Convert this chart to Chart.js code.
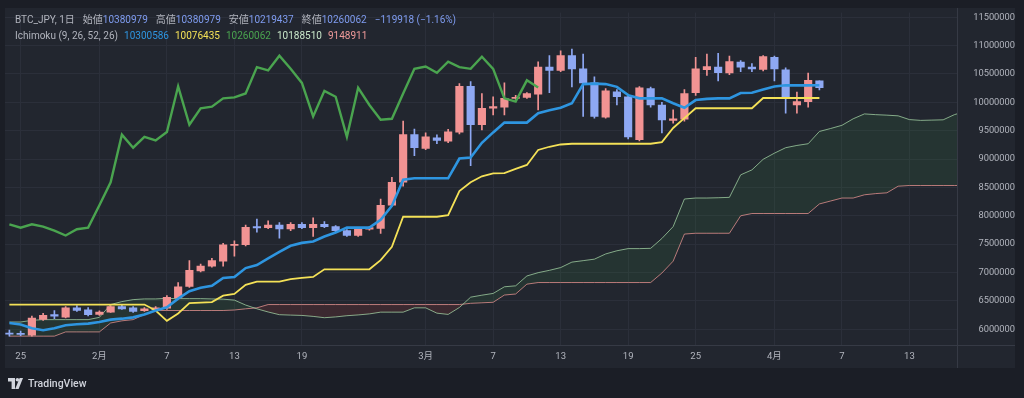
<!DOCTYPE html>
<html lang="ja">
<head>
<meta charset="utf-8">
<title>BTC_JPY 1日 Ichimoku</title>
<script src="https://cdn.jsdelivr.net/npm/chart.js@4.4.1/dist/chart.umd.min.js"></script>
<style>
  html, body { margin: 0; padding: 0; background: #1b1e26; }
  #wrap { position: relative; width: 1024px; height: 398px; overflow: hidden; }
  #chart { position: absolute; left: 0; top: 0; }
  .hdr { position: absolute; left: 15px; font-family: Roboto, "Noto Sans CJK JP", sans-serif;
         font-size: 10px; line-height: 12px; color: #b2b5be; white-space: nowrap; }
  .hdr .g { margin-left: 8px; }
  .hdr .v { color: #7f9cf0; }
  .hdr .n { margin-left: 6px; }
  #footer { position: absolute; left: 8px; top: 377px; display: flex; align-items: center;
            font-family: Roboto, sans-serif; font-size: 10.5px; font-weight: 500; color: #d1d4dc; }
  #footer svg { margin-right: 5px; }
</style>
</head>
<body>
<div id="wrap">
  <canvas id="chart" width="1024" height="398"></canvas>
  <div class="hdr" style="top:14px">BTC_JPY, 1日<span class="g">始値<span class="v">10380979</span></span><span class="g">高値<span class="v">10380979</span></span><span class="g">安値<span class="v">10219437</span></span><span class="g">終値<span class="v">10260062</span></span><span class="g v">−119918 (−1.16%)</span></div>
  <div class="hdr" style="top:30px">Ichimoku (9, 26, 52, 26)<span class="n" style="color:#2e95e0">10300586</span><span class="n" style="color:#f4e157">10076435</span><span class="n" style="color:#4aa44f">10260062</span><span class="n" style="color:#c8e6c9">10188510</span><span class="n" style="color:#ef9a9a">9148911</span></div>
  <div id="footer">
    <svg width="15" height="11" viewBox="0 0 15 11"><path d="M0 0H7V11H3.6V3.4H0Z" fill="#d1d4dc"/><circle cx="9.4" cy="1.8" r="1.8" fill="#d1d4dc"/><path d="M11.6 0H15L10.6 11H7.2Z" fill="#d1d4dc"/></svg>
    <span>TradingView</span>
  </div>
</div>
<script>
// daily candles, index 0 = 1/24 ... 72 = 4/5
const opens = [
  5930000, 5925000, 5896000, 6174000, 6256000, 6214000, 6377000, 6343000, 6261000, 6301000,
  6400000, 6377000, 6325000, 6343000, 6370000, 6551000, 6753000, 7026000, 7113000, 7200000,
  7478000, 7490000, 7809000, 7791000, 7838000, 7769000, 7849000, 7791000, 7849000, 7809000,
  7739000, 7652000, 7762000, 7779000, 8186000, 8591000, 9431000, 9188000, 9374000, 9317000,
  9473000, 10283000, 9605000, 9896000, 9913000, 10070000, 10087000, 10144000, 10621000, 10562000,
  10823000, 10591000, 10343000, 9739000, 10186000, 10099000, 9344000, 10243000, 9953000, 9682000,
  9704000, 10169000, 10574000, 10621000, 10517000, 10708000, 10621000, 10579000, 10795000, 10574000,
  9953000, 10012000, 10380979
];
const highs = [
  5983000, 5965000, 6231000, 6278000, 6330000, 6400000, 6417000, 6383000, 6322000, 6417000,
  6426000, 6400000, 6383000, 6400000, 6591000, 6823000, 7212000, 7148000, 7252000, 7513000,
  7560000, 7838000, 7943000, 7913000, 7878000, 7878000, 7878000, 7965000, 7896000, 7826000,
  7757000, 7791000, 7809000, 8296000, 8678000, 9670000, 9530000, 9461000, 9426000, 9522000,
  10330000, 10365000, 10156000, 10099000, 10343000, 10122000, 10174000, 10713000, 10823000, 10909000,
  10939000, 10852000, 10452000, 10243000, 10226000, 10127000, 10278000, 10270000, 10000000, 9866000,
  10226000, 10795000, 10852000, 10864000, 10817000, 10736000, 10683000, 10823000, 10817000, 10609000,
  10179000, 10517000, 10380979
];
const lows = [
  5878000, 5887000, 5878000, 6157000, 6186000, 6200000, 6313000, 6235000, 6243000, 6296000,
  6348000, 6296000, 6313000, 6330000, 6348000, 6539000, 6739000, 7009000, 7096000, 7113000,
  7287000, 7470000, 7710000, 7774000, 7605000, 7739000, 7774000, 7635000, 7791000, 7722000,
  7635000, 7635000, 7748000, 7687000, 8174000, 8522000, 9061000, 9165000, 9270000, 9287000,
  9443000, 8882000, 9513000, 9779000, 9779000, 10052000, 10070000, 9866000, 10169000, 10539000,
  10273000, 9751000, 9722000, 9722000, 9953000, 9357000, 9322000, 9913000, 9461000, 9635000,
  9670000, 10122000, 10475000, 10377000, 10487000, 10539000, 10539000, 10556000, 10377000, 9809000,
  9809000, 9913000, 10219437
];
const closes = [
  5913000, 5910000, 6197000, 6243000, 6231000, 6377000, 6330000, 6256000, 6301000, 6400000,
  6360000, 6313000, 6360000, 6377000, 6562000, 6748000, 7038000, 7113000, 7210000, 7490000,
  7496000, 7797000, 7786000, 7838000, 7769000, 7849000, 7791000, 7849000, 7809000, 7739000,
  7652000, 7762000, 7791000, 8186000, 8591000, 9431000, 9200000, 9391000, 9327000, 9478000,
  10283000, 9605000, 9896000, 9925000, 10070000, 10087000, 10156000, 10621000, 10562000, 10823000,
  10591000, 10343000, 9751000, 10203000, 10099000, 9391000, 10256000, 9953000, 9692000, 9710000,
  10156000, 10591000, 10631000, 10521000, 10718000, 10621000, 10591000, 10805000, 10591000, 10070000,
  10012000, 10388000, 10260062
];

// 転換線 / 基準線 (same days as candles)
const tenkan = [
  6110000, 6082000, 6017000, 5983000, 6017000, 6070000, 6087000, 6099000, 6127000, 6169000,
  6186000, 6209000, 6261000, 6330000, 6388000, 6539000, 6670000, 6730000, 6765000, 6904000,
  6922000, 7078000, 7130000, 7247000, 7365000, 7470000, 7522000, 7548000, 7635000, 7704000,
  7791000, 7791000, 7791000, 7930000, 8174000, 8635000, 8661000, 8661000, 8661000, 8661000,
  9009000, 9026000, 9287000, 9470000, 9643000, 9643000, 9643000, 9809000, 9861000, 9904000,
  9983000, 10322000, 10330000, 10322000, 10273000, 10127000, 10070000, 10070000, 10070000, 9983000,
  9904000, 10040000, 10061000, 10070000, 10070000, 10165000, 10169000, 10226000, 10278000, 10300000,
  10300000, 10300000, 10300586
];
const kijun = [
  6435000, 6435000, 6435000, 6435000, 6435000, 6435000, 6435000, 6435000, 6435000, 6435000,
  6435000, 6435000, 6435000, 6330000, 6148000, 6278000, 6461000, 6470000, 6478000, 6591000,
  6621000, 6783000, 6840000, 6840000, 6840000, 6882000, 6904000, 6922000, 7056000, 7056000,
  7056000, 7056000, 7056000, 7217000, 7452000, 7983000, 7983000, 7983000, 7983000, 8012000,
  8435000, 8591000, 8696000, 8748000, 8753000, 8826000, 8896000, 9160000, 9217000, 9257000,
  9270000, 9270000, 9270000, 9270000, 9270000, 9270000, 9270000, 9270000, 9299000, 9548000,
  9722000, 9896000, 9896000, 9896000, 9896000, 9896000, 9896000, 10076435, 10076435, 10076435,
  10076435, 10076435, 10076435
];

// 先行スパン (already placed 26 days ahead, index 0 = 1/24 ... 85 = 4/18)
const senkouA = [
  6127000, 6127000, 6157000, 6169000, 6169000, 6169000, 6169000, 6169000, 6209000, 6435000,
  6487000, 6522000, 6534000, 6534000, 6544000, 6539000, 6539000, 6539000, 6534000, 6530000,
  6513000, 6426000, 6360000, 6304000, 6256000, 6249000, 6243000, 6226000, 6203000, 6217000,
  6238000, 6252000, 6270000, 6301000, 6301000, 6301000, 6377000, 6377000, 6283000, 6261000,
  6383000, 6565000, 6600000, 6631000, 6748000, 6765000, 6939000, 6997000, 7038000, 7087000,
  7183000, 7209000, 7235000, 7327000, 7383000, 7421000, 7421000, 7426000, 7600000, 7809000,
  8296000, 8313000, 8313000, 8318000, 8325000, 8722000, 8809000, 8996000, 9104000, 9200000,
  9240000, 9270000, 9487000, 9539000, 9595000, 9710000, 9796000, 9783000, 9774000, 9762000,
  9696000, 9682000, 9687000, 9692000, 9783000, 9843000
];
const senkouB = [
  5878000, 5878000, 5878000, 5878000, 5878000, 5953000, 5953000, 5953000, 5953000, 6110000,
  6148000, 6169000, 6261000, 6330000, 6330000, 6330000, 6330000, 6330000, 6330000, 6330000,
  6339000, 6360000, 6377000, 6435000, 6435000, 6435000, 6435000, 6435000, 6435000, 6435000,
  6435000, 6435000, 6435000, 6435000, 6435000, 6435000, 6435000, 6435000, 6435000, 6435000,
  6435000, 6457000, 6466000, 6475000, 6603000, 6621000, 6795000, 6823000, 6823000, 6823000,
  6823000, 6823000, 6823000, 6823000, 6823000, 6823000, 6823000, 6823000, 6991000, 7200000,
  7678000, 7692000, 7692000, 7692000, 7692000, 8000000, 8040000, 8040000, 8040000, 8040000,
  8040000, 8040000, 8209000, 8261000, 8313000, 8313000, 8370000, 8391000, 8405000, 8522000,
  8534000, 8534000, 8534000, 8534000, 8534000, 8534000
];
const chikouShift = 25;

const tickDays = [1, 8, 14, 20, 26, 37, 43, 49, 55, 61, 68, 74, 80];
const tickText = ['25', '2月', '7', '13', '19', '3月', '7', '13', '19', '25', '4月', '7', '13'];
const yTicks = [6000000, 6500000, 7000000, 7500000, 8000000, 8500000, 9000000, 9500000,
  10000000, 10500000, 11000000, 11500000];

const upColor = '#f29393';
const downColor = '#8ea8f3';
const gridColor = '#2b2f3a';
const sepColor = '#363a45';
const textColor = '#b2b5be';
const fontFamily = 'Roboto, "Noto Sans CJK JP", sans-serif';

const candleColors = closes.map((c, i) => c >= opens[i] ? upColor : downColor);
const pts = arr => arr.map((v, i) => ({ x: i, y: v }));

const frame = {
  id: 'frame',
  beforeDraw(chart) {
    const ctx = chart.ctx;
    ctx.save();
    ctx.fillStyle = '#1b1e26';
    ctx.fillRect(0, 0, chart.width, chart.height);
    ctx.fillStyle = '#22262f';
    ctx.fillRect(5, 8, 1010, 360);
    ctx.restore();
  },
  afterDraw(chart) {
    const ctx = chart.ctx;
    const a = chart.chartArea;
    ctx.save();
    ctx.strokeStyle = sepColor;
    ctx.lineWidth = 1;
    ctx.beginPath();
    ctx.moveTo(Math.round(a.right) + 0.5, 8);
    ctx.lineTo(Math.round(a.right) + 0.5, 368);
    ctx.moveTo(5, Math.round(a.bottom) + 0.5);
    ctx.lineTo(1015, Math.round(a.bottom) + 0.5);
    ctx.stroke();
    ctx.restore();
  }
};

new Chart(document.getElementById('chart'), {
  type: 'line',
  data: {
    datasets: [
      {
        label: '転換線', data: pts(tenkan), borderColor: '#2e95e0', borderWidth: 2.6,
        pointRadius: 0, tension: 0, order: 0
      },
      {
        label: '基準線', data: pts(kijun), borderColor: '#f4e157', borderWidth: 1.8,
        pointRadius: 0, tension: 0, order: 0
      },
      {
        label: '遅行スパン', data: closes.slice(chikouShift).map((v, i) => ({ x: i, y: v })),
        borderColor: '#4aa44f', borderWidth: 2.4, pointRadius: 0, tension: 0, order: 0
      },
      {
        type: 'bar', label: 'body', data: opens.map((o, i) => ({ x: i, y: [o, closes[i]] })),
        backgroundColor: candleColors, barThickness: 7.5, grouped: false, minBarLength: 1,
        borderWidth: 0, order: 1
      },
      {
        type: 'bar', label: 'wick', data: lows.map((l, i) => ({ x: i, y: [l, highs[i]] })),
        backgroundColor: candleColors, barThickness: 1, grouped: false, borderWidth: 0, order: 2
      },
      {
        label: '先行スパン1', data: pts(senkouA), borderColor: 'rgba(165,214,167,0.75)', borderWidth: 1,
        pointRadius: 0, tension: 0, order: 3,
        fill: { target: 6, above: 'rgba(67,160,71,0.12)', below: 'rgba(244,67,54,0.12)' }
      },
      {
        label: '先行スパン2', data: pts(senkouB), borderColor: 'rgba(239,154,154,0.75)', borderWidth: 1,
        pointRadius: 0, tension: 0, order: 4
      }
    ]
  },
  options: {
    responsive: false,
    animation: false,
    layout: { padding: { left: 5, top: 8, right: 9, bottom: 30 } },
    plugins: { legend: { display: false }, tooltip: { enabled: false } },
    scales: {
      x: {
        type: 'linear', min: -0.39, max: 84.23, offset: false,
        afterBuildTicks: s => { s.ticks = tickDays.map(v => ({ value: v })); },
        afterFit: s => { s.height = 23; },
        grid: { color: gridColor, drawTicks: false, offset: false },
        border: { display: false },
        ticks: {
          color: textColor, font: { family: fontFamily, size: 9.5 }, padding: 6,
          maxRotation: 0, autoSkip: false,
          callback: v => { const k = tickDays.indexOf(v); return k >= 0 ? tickText[k] : ''; }
        }
      },
      y: {
        type: 'linear', position: 'right', min: 5721739, max: 11582609, beginAtZero: false,
        afterBuildTicks: s => { s.ticks = yTicks.map(v => ({ value: v })); },
        afterFit: s => { s.width = 58; },
        grid: { color: gridColor, drawTicks: false },
        border: { display: false },
        ticks: {
          color: textColor, font: { family: fontFamily, size: 9.3 }, padding: 7,
          crossAlign: 'far', callback: v => String(v)
        }
      }
    }
  },
  plugins: [frame]
});
</script>
</body>
</html>
